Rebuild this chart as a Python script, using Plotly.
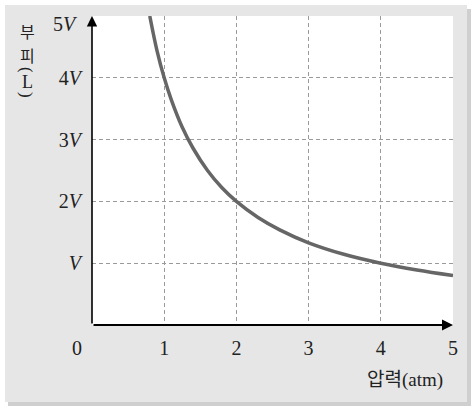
import plotly.graph_objects as go

# Data (pressure in atm, volume in units of V)
pressure = [0.8, 0.9, 1.0, 1.1, 1.25, 1.4, 1.6, 1.8, 2.0, 2.3, 2.6, 3.0, 3.5, 4.0, 4.5, 5.0]
volume = [5.0, 4.44, 4.0, 3.64, 3.2, 2.86, 2.5, 2.22, 2.0, 1.74, 1.54, 1.33, 1.14, 1.0, 0.89, 0.8]

x_tickvals = [1, 2, 3, 4, 5]
x_ticktext = ["1", "2", "3", "4", "5"]
y_tickvals = [1, 2, 3, 4]
y_ticktext = ["<i>V</i>", "2<i>V</i>", "3<i>V</i>", "4<i>V</i>"]
grid_vals = [1, 2, 3, 4]

SERIF = "Liberation Serif, Noto Sans CJK KR, serif"

fig = go.Figure()
fig.add_trace(go.Scatter(
    x=pressure, y=volume, mode="lines",
    line=dict(color="#666666", width=3.5, shape="spline", smoothing=1.0),
    hoverinfo="skip", showlegend=False,
))

fig.update_layout(
    width=474, height=410,
    margin=dict(l=92, r=21, t=16, b=85, autoexpand=False),
    paper_bgcolor="white",
    plot_bgcolor="rgba(0,0,0,0)",
    showlegend=False,
    xaxis=dict(
        range=[0, 5], showgrid=False, zeroline=False, showline=False,
        tickvals=x_tickvals, ticktext=x_ticktext, ticks="",
        tickfont=dict(family=SERIF, size=20, color="#222222"),
        ticklabelstandoff=9,
        minor=dict(tickvals=grid_vals, showgrid=True, gridcolor="#9a9a9a",
                   gridwidth=1, griddash="4px,3px", ticks=""),
        fixedrange=True,
    ),
    yaxis=dict(
        range=[0, 5], showgrid=False, zeroline=False, showline=False,
        tickvals=y_tickvals, ticktext=y_ticktext, ticks="",
        tickfont=dict(family=SERIF, size=20, color="#222222"),
        ticklabelstandoff=10,
        minor=dict(tickvals=grid_vals, showgrid=True, gridcolor="#9a9a9a",
                   gridwidth=1, griddash="4px,3px", ticks=""),
        fixedrange=True,
    ),
)

# gray panel with shadow, and white plotting area
fig.add_shape(type="rect", xref="paper", yref="paper", xsizemode="pixel", ysizemode="pixel",
              xanchor=0, yanchor=0, x0=-84, x1=379, y0=-81, y1=316,
              fillcolor="#cfcfcf", line=dict(width=0), layer="below")
fig.add_shape(type="rect", xref="paper", yref="paper", xsizemode="pixel", ysizemode="pixel",
              xanchor=0, yanchor=0, x0=-87, x1=375, y0=-77, y1=320,
              fillcolor="#e6e6e6", line=dict(width=0), layer="below")
fig.add_shape(type="rect", xref="paper", yref="paper", x0=0, x1=1, y0=0, y1=1,
              fillcolor="white", line=dict(width=0), layer="below")

# axes with arrows
fig.add_annotation(x=5, y=0, ax=0, ay=0, xref="x", yref="y", axref="x", ayref="y",
                   text="", showarrow=True, arrowhead=2, arrowsize=1.1, arrowwidth=2,
                   arrowcolor="black", standoff=0)
fig.add_annotation(x=0, y=5, ax=0, ay=0, xref="x", yref="y", axref="x", ayref="y",
                   text="", showarrow=True, arrowhead=2, arrowsize=1.3, arrowwidth=1.6,
                   arrowcolor="black", standoff=0)

# origin and top label
fig.add_annotation(x=0, y=0, xref="x", yref="y", text="0", showarrow=False,
                   xshift=-15, yshift=-23, font=dict(family=SERIF, size=20, color="#222222"))
fig.add_annotation(x=0, y=5, xref="x", yref="y", text="5<i>V</i>", showarrow=False,
                   xanchor="right", xshift=-12, yshift=-8,
                   font=dict(family=SERIF, size=20, color="#222222"))

# axis titles
fig.add_annotation(x=1, y=0, xref="paper", yref="paper", text="압력(atm)", showarrow=False,
                   xanchor="right", yanchor="middle", xshift=-8, yshift=-55,
                   font=dict(family=SERIF, size=19, color="#222222"))
KO = "Noto Sans CJK KR"
for txt, ys, ang, sz, fam in [("부", -15, 0, 16, KO), ("피", -39, 0, 16, KO),
                              ("(", -54, 90, 17, SERIF), ("L", -66, 0, 18, SERIF),
                              (")", -79, 90, 17, SERIF)]:
    fig.add_annotation(x=0, y=1, xref="paper", yref="paper", text=txt, showarrow=False,
                       xanchor="center", yanchor="middle", xshift=-65, yshift=ys,
                       textangle=ang, font=dict(family=fam, size=sz, color="#222222"))

fig.write_html("out.html", config={"displayModeBar": False, "staticPlot": True},
               post_script="document.body.style.margin='0';")
